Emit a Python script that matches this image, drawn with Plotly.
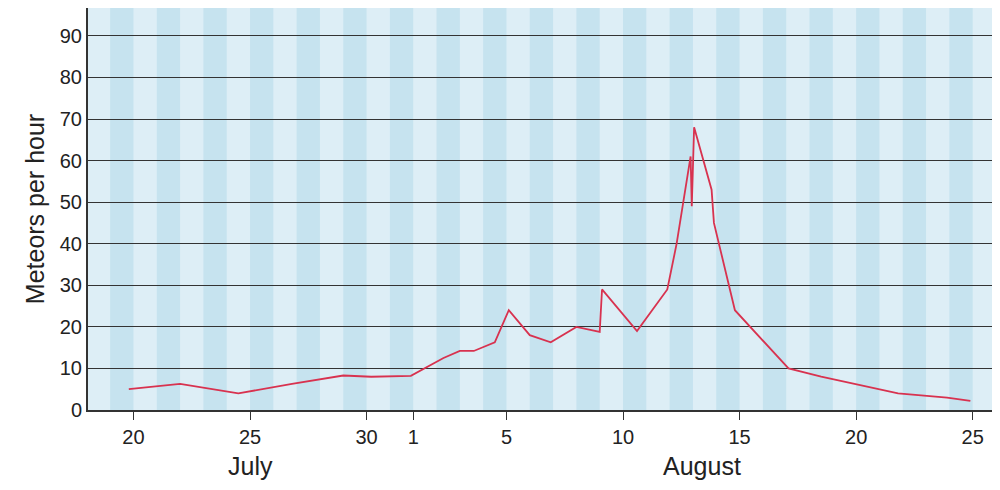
import plotly.graph_objects as go

# day index: July 1 = 1 ... July 31 = 31, Aug 1 = 32
days = [19.8, 22.0, 24.5, 26.8, 29.0, 30.2, 31.9, 33.3, 34.0, 34.6, 35.5, 36.1, 37.0, 37.9, 39.0, 40.0, 40.1,
        41.6, 42.9, 43.3, 43.9, 43.95, 44.05, 44.8, 44.9, 45.8, 48.1, 49.5, 52.8, 54.9, 55.9]
rates = [5, 6.3, 4, 6.3, 8.3, 8, 8.2, 12.5, 14.2, 14.2, 16.3, 24, 18, 16.3, 20, 18.8, 29,
         19, 29, 40, 61, 49, 68, 53, 45, 24, 10, 8, 4, 3, 2.2]
tick_vals = [20, 25, 30, 32, 36, 41, 46, 51, 56]
tick_text = ["20", "25", "30", "1", "5", "10", "15", "20", "25"]
months = ["July", "August"]
month_pos = [25, 44.4]

x0, x1 = 18.05, 57.0
fig = go.Figure()
shapes = []
d = 19
while d < x1:
    shapes.append(dict(type="rect", xref="x", yref="paper", x0=d, x1=min(d + 1, x1), y0=0, y1=1,
                       fillcolor="#c6e3ef", line_width=0, layer="below"))
    d += 2
fig.add_trace(go.Scatter(x=days, y=rates, mode="lines", line=dict(color="#d8324f", width=1.8),
                         hoverinfo="skip"))
for m, p in zip(months, month_pos):
    fig.add_annotation(x=p, y=-0.139, xref="x", yref="paper", text=m, showarrow=False,
                       font=dict(size=25, color="#222"), yanchor="middle")
fig.update_layout(
    width=1000, height=490, margin=dict(l=80, r=12, t=0, b=88),
    paper_bgcolor="white", plot_bgcolor="#ddeef6", shapes=shapes, showlegend=False,
    font=dict(family="Liberation Sans, Arial", color="#222"),
    xaxis=dict(range=[x0, x1], tickvals=tick_vals, ticktext=tick_text, ticks="outside",
               ticklen=8, tickcolor="#333", showgrid=False, showline=True, linecolor="#333",
               linewidth=2, tickfont=dict(size=20), zeroline=False),
    yaxis=dict(range=[0, 96.7], tickvals=list(range(0, 100, 10)), showgrid=True, gridcolor="#333",
               gridwidth=1, showline=True, linecolor="#333", linewidth=2, ticks="",
               tickfont=dict(size=20), zeroline=False,
               title=dict(text="Meteors per hour", font=dict(size=25), standoff=8)),
)
fig.write_html("out.html")
